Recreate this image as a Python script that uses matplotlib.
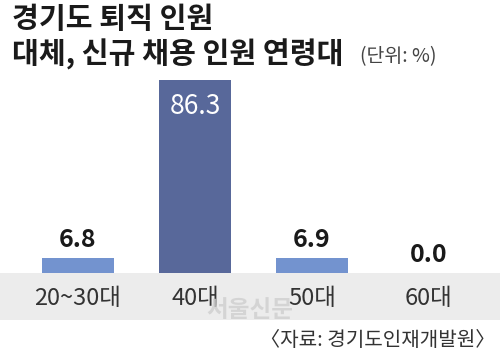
import matplotlib
matplotlib.use("Agg")
import matplotlib.pyplot as plt
from matplotlib.patches import Rectangle

plt.rcParams['font.family'] = ['Noto Sans CJK KR', 'DejaVu Sans']
narrow = ['Liberation Sans Narrow', 'Noto Sans CJK KR', 'DejaVu Sans']

categories = ['20~30대', '40대', '50대', '60대']
values = [6.8, 86.3, 6.9, 0.0]
value_labels = ['6.8', '86.3', '6.9', '0.0']
bar_colors = ['#7393cf', '#58689a', '#7393cf', '#7393cf']

W, H = 500, 354
fig = plt.figure(figsize=(W / 100, H / 100), dpi=100)
fig.patch.set_facecolor('white')

# gray band behind the category labels
fig.patches.append(Rectangle((0, (H - 320) / H), 1, 47 / H, transform=fig.transFigure,
                             facecolor='#ececec', edgecolor='none', zorder=-5))

base_y, top_y = 273, 80
ax = fig.add_axes([0, (H - base_y) / H, 1, (base_y - top_y) / H])
ax.set_facecolor('none')
ax.bar(range(len(values)), values, width=0.607, color=bar_colors, zorder=2)
ax.set_xlim(-78 / 117, (W - 78) / 117)
ax.set_ylim(0, 86.3)
ax.axis('off')

for i, (v, lab) in enumerate(zip(values, value_labels)):
    if v > 50:
        ax.text(i, v - 6, lab, ha='center', va='top', color='white', fontsize=19,
                family=narrow)
    else:
        ax.text(i, v + 2.5, lab, ha='center', va='bottom', color='#1a1a1a',
                fontsize=18, fontweight='bold', family=narrow)
    ax.text(i, -0.13, categories[i], transform=ax.get_xaxis_transform(),
            ha='center', va='center', color='#333333', fontsize=17, family=narrow,
            clip_on=False)

fig.text(12 / W, 1 - 19 / H, '경기도 퇴직 인원', fontsize=21, fontweight='heavy',
         color='#1a1a1a', va='center', ha='left')
fig.text(12 / W, 1 - 54 / H, '대체, 신규 채용 인원 연령대', fontsize=21, fontweight='heavy',
         color='#1a1a1a', va='center', ha='left')
fig.text(360 / W, 1 - 57 / H, '(단위: %)', fontsize=14, fontweight='light', color='#444444',
         va='center', ha='left')

fig.text(0.5, 1 - 310 / H, '서울신문', fontsize=17, fontweight='bold', color='#cfcfcf',
         ha='center', va='center', alpha=0.8, zorder=5)

fig.text(495 / W, 1 - 341 / H, '〈자료: 경기도인재개발원〉', fontsize=14.5, fontweight='light',
         color='#333333', ha='right', va='center')

fig.savefig('out.png', dpi=100)
